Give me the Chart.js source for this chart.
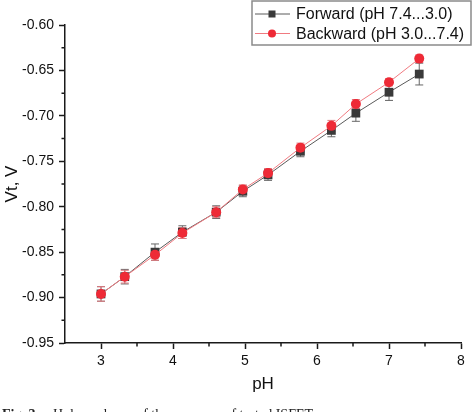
<!DOCTYPE html>
<html>
<head>
<meta charset="utf-8">
<script src="https://cdn.jsdelivr.net/npm/chart.js@4"></script>
<style>
  body { margin: 0; background: #fff; overflow: hidden; }
  #wrap { position: relative; width: 474px; height: 412px; }
  #caption { position: absolute; left: 2px; top: 407px; font: 14px "Liberation Serif", serif; color: #222; white-space: nowrap; }
</style>
</head>
<body>
<div id="wrap">
  <canvas id="vtChart" width="474" height="412"></canvas>
  <div id="caption"><b>Fig. 3.</b>&nbsp; pH dependence of the response of tested ISFET</div>
</div>
<script>
// values
var pHValues    = [3.0, 3.33, 3.75, 4.13, 4.6, 4.97, 5.32, 5.77, 6.2, 6.54, 7.0, 7.42];
var forwardVt   = [-0.896, -0.877, -0.850, -0.828, -0.806, -0.783, -0.765, -0.739, -0.716, -0.697, -0.674, -0.654];
var backwardVt  = [-0.896, -0.877, -0.853, -0.829, -0.806, -0.781, -0.763, -0.735, -0.711, -0.687, -0.663, -0.637];
var forwardErr  = [0.008, 0.008, 0.009, 0.007, 0.007, 0.006, 0.006, 0.006, 0.007, 0.009, 0.009, 0.012];
var backwardErr = [0.008, 0.007, 0.006, 0.006, 0.006, 0.005, 0.005, 0.005, 0.006, 0.005, 0.004, 0.004];
var seriesLabels = ["Forward (pH 7.4...3.0)", "Backward (pH 3.0...7.4)"];

function toPoints(xs, ys) {
  return xs.map(function(x, i) { return {x: x, y: ys[i]}; });
}

var errorBars = {
  id: 'errorBars',
  beforeDatasetsDraw: function(chart) {
    var ctx = chart.ctx, xs = chart.scales.x, ys = chart.scales.y;
    var sets = [[forwardVt, forwardErr, '#666'], [backwardVt, backwardErr, '#e07a80']];
    ctx.save();
    ctx.lineWidth = 1;
    sets.forEach(function(s) {
      ctx.strokeStyle = s[2];
      pHValues.forEach(function(p, i) {
        var px = xs.getPixelForValue(p);
        var top = ys.getPixelForValue(s[0][i] + s[1][i]);
        var bot = ys.getPixelForValue(s[0][i] - s[1][i]);
        ctx.beginPath();
        ctx.moveTo(px, top); ctx.lineTo(px, bot);
        ctx.moveTo(px - 4, top); ctx.lineTo(px + 4, top);
        ctx.moveTo(px - 4, bot); ctx.lineTo(px + 4, bot);
        ctx.stroke();
      });
    });
    ctx.restore();
  }
};

// minor ticks + legend box
var extras = {
  id: 'extras',
  afterDraw: function(chart) {
    var ctx = chart.ctx, xs = chart.scales.x, ys = chart.scales.y, a = chart.chartArea;
    ctx.save();
    ctx.strokeStyle = '#1a1a1a';
    ctx.lineWidth = 1.5;
    ctx.beginPath();
    for (var v = -0.925; v < -0.6; v += 0.05) {
      var py = ys.getPixelForValue(v);
      ctx.moveTo(a.left - 3.5, py); ctx.lineTo(a.left, py);
    }
    for (var h = 3.5; h < 8; h += 1) {
      var px = xs.getPixelForValue(h);
      ctx.moveTo(px, a.bottom); ctx.lineTo(px, a.bottom + 3.5);
    }
    ctx.stroke();

    // legend
    ctx.fillStyle = '#fff';
    ctx.fillRect(252, 1, 219, 44);
    ctx.strokeStyle = '#8a8a8a';
    ctx.lineWidth = 1.5;
    ctx.strokeRect(252, 1, 219, 44);
    ctx.font = '16px "Liberation Sans", Arial, sans-serif';
    ctx.textBaseline = 'middle';
    chart.data.datasets.forEach(function(ds, i) {
      var y = 14 + i * 19.5;
      ctx.strokeStyle = ds.borderColor;
      ctx.lineWidth = 1;
      ctx.beginPath(); ctx.moveTo(255, y); ctx.lineTo(290, y); ctx.stroke();
      ctx.fillStyle = ds.pointBackgroundColor;
      if (ds.pointStyle === 'rect') {
        ctx.fillRect(268.5, y - 3.5, 7, 7);
      } else {
        ctx.beginPath(); ctx.arc(272, y, 4, 0, Math.PI * 2); ctx.fill();
      }
      ctx.fillStyle = '#111';
      ctx.fillText(ds.label, 296, y + 1);
    });
    ctx.restore();
  }
};

var ctx = document.getElementById("vtChart");
var vtChart = new Chart(ctx, {
  type: 'line',
  data: {
    datasets: [{
      label: seriesLabels[0],
      data: toPoints(pHValues, forwardVt),
      order: 1,
      borderColor: '#5a5a5a',
      borderWidth: 1,
      pointStyle: 'rect',
      pointRadius: 6.2,
      pointBackgroundColor: '#3a3a3a',
      pointBorderColor: '#3a3a3a',
      pointBorderWidth: 0
    }, {
      label: seriesLabels[1],
      data: toPoints(pHValues, backwardVt),
      order: 0,
      borderColor: '#f07a80',
      borderWidth: 1,
      pointStyle: 'circle',
      pointRadius: 5,
      pointBackgroundColor: '#ee2a36',
      pointBorderColor: '#ee2a36',
      pointBorderWidth: 0
    }]
  },
  options: {
    responsive: false,
    animation: false,
    layout: { padding: { top: 25, right: 13, left: 0, bottom: 0 } },
    plugins: { legend: { display: false }, tooltip: { enabled: false } },
    scales: {
      x: {
        type: 'linear',
        min: 2.5, max: 8,
        afterFit: function(s) { s.height = 69; },
        grid: { drawOnChartArea: false, tickLength: 6, color: '#1a1a1a', tickWidth: 1.5 },
        border: { color: '#1a1a1a', width: 1.5 },
        ticks: {
          stepSize: 1, includeBounds: false, padding: 4, color: '#111',
          font: { family: '"Liberation Sans", Arial, sans-serif', size: 14 }
        },
        title: {
          display: true, text: 'pH', color: '#111',
          font: { family: '"Liberation Sans", Arial, sans-serif', size: 17 },
          padding: { top: 0, bottom: 17 }
        }
      },
      y: {
        min: -0.95, max: -0.60,
        afterFit: function(s) { s.width = 65; },
        grid: { drawOnChartArea: false, tickLength: 6, color: '#1a1a1a', tickWidth: 1.5 },
        border: { color: '#1a1a1a', width: 1.5 },
        ticks: {
          stepSize: 0.05, padding: 5, color: '#111',
          font: { family: '"Liberation Sans", Arial, sans-serif', size: 14 },
          callback: function(v) { return v.toFixed(2); }
        },
        title: {
          display: true, text: 'Vt, V', color: '#111',
          font: { family: '"Liberation Sans", Arial, sans-serif', size: 17 },
          padding: { top: 2, bottom: 0 }
        }
      }
    }
  },
  plugins: [errorBars, extras]
});
</script>
</body>
</html>
